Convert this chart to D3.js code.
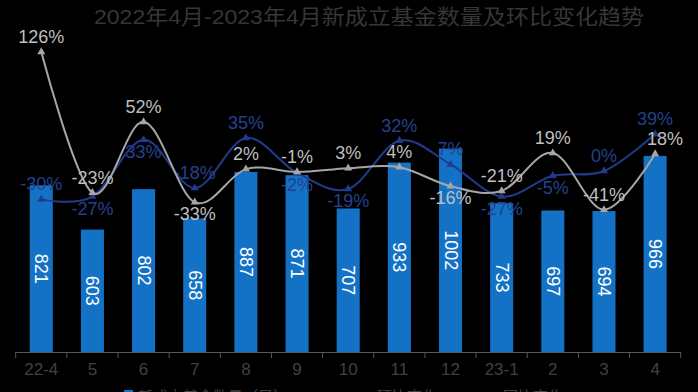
<!DOCTYPE html>
<html><head><meta charset="utf-8">
<script src="https://cdn.jsdelivr.net/npm/d3@7"></script>
<style>html,body{margin:0;padding:0;background:#000;}svg{display:block;}</style>
</head><body>
<svg id="c" width="698" height="392"></svg>
<script>
const categories = ["22-4","5","6","7","8","9","10","11","12","23-1","2","3","4"];
const fundCounts = [821,603,802,658,887,871,707,933,1002,733,697,694,966];
const momChange = [-30,-27,33,-18,35,-2,-19,32,7,-27,-5,0,39];   // 环比变化 %
const yoyChange = [126,-23,52,-33,2,-1,3,4,-16,-21,19,-41,18];   // 同比变化 %
const momLabelSide = ["up","down","down","up","up","down","down","up","up","down","down","up","up"];
const yoyLabelSide = ["up","up","up","down","up","up","up","up","down","up","up","up","up"];
const title = "2022年4月-2023年4月新成立基金数量及环比变化趋势";
const legendNames = ["新成立基金数量（只）","环比变化","同比变化"];

const svg = d3.select("#c");
const W = 698, H = 392;
svg.append("rect").attr("width",W).attr("height",H).attr("fill","#000");

const font = "'Liberation Sans', Arial, 'Noto Sans CJK SC', sans-serif";
const barColor = "#1372c6", momColor = "#213b8c", yoyColor = "#a6a6a6";

const x = d3.scaleBand().domain(categories).range([15.7, 680.7]).paddingInner(0.55).paddingOuter(0.275);
const y = d3.scaleLinear().domain([0,1200]).range([352, 108.4]);
const y2 = d3.scaleLinear().domain([-100,150]).range([265.6, 29.1]);
const cx = c => x(c) + x.bandwidth()/2;

// title
svg.append("text").attr("x",369).attr("y",24).attr("text-anchor","middle")
  .attr("textLength",550).attr("lengthAdjust","spacingAndGlyphs")
  .attr("font-family",font).attr("font-size",21).attr("fill","#363636").text(title);

// bars
svg.append("g").selectAll("rect").data(fundCounts).join("rect")
  .attr("x",(d,i)=>x(categories[i])).attr("width",x.bandwidth())
  .attr("y",d=>y(d)).attr("height",d=>y(0)-y(d)).attr("fill",barColor);

// bar labels (rotated)
svg.append("g").selectAll("text").data(fundCounts).join("text")
  .attr("transform",(d,i)=>`translate(${cx(categories[i])},${(y(d)+y(0))/2}) rotate(90)`)
  .attr("text-anchor","middle").attr("dominant-baseline","central")
  .attr("font-family",font).attr("font-size",18).attr("fill","#fff").text(d=>d);

// x axis
const xAxis = d3.axisBottom(x).tickSize(0).tickPadding(8);
const gx = svg.append("g").attr("transform","translate(0,352)").call(xAxis);
gx.select(".domain").attr("stroke","#595959").attr("stroke-width",1).attr("d","M15.7,0.5H680.7");
gx.selectAll("text").attr("font-family",font).attr("font-size",17).attr("fill","#404040").attr("dy","0.9em");
const bounds = categories.map(c=>x(c)-x.step()*x.paddingInner()/2).concat([680.7]);
bounds[0] = 15.7;
gx.selectAll(".bt").data(bounds).join("line").attr("class","bt")
  .attr("x1",d=>d).attr("x2",d=>d).attr("y1",0).attr("y2",6).attr("stroke","#595959");

// lines
function drawLine(vals, color, sides, labelColor, lastDx) {
  const line = d3.line().x((d,i)=>cx(categories[i])).y(d=>y2(d)).curve(d3.curveCatmullRom.alpha(0));
  svg.append("path").datum(vals).attr("d",line).attr("fill","none").attr("stroke",color).attr("stroke-width",2);
  svg.append("g").selectAll("path").data(vals).join("path")
    .attr("transform",(d,i)=>`translate(${cx(categories[i])},${y2(d)})`)
    .attr("d",d3.symbol().type(d3.symbolTriangle).size(28)).attr("fill",color);
  svg.append("g").selectAll("text").data(vals).join("text")
    .attr("x",(d,i)=>cx(categories[i]) + (i===vals.length-1 ? lastDx : 0))
    .attr("y",(d,i)=> sides[i]==="up" ? y2(d)-9 : y2(d)+18)
    .attr("text-anchor","middle").attr("font-family",font).attr("font-size",18)
    .attr("fill",labelColor).text(d=>d+"%");
}
drawLine(momChange, momColor, momLabelSide, "#24408f", 0);
drawLine(yoyChange, yoyColor, yoyLabelSide, "#bfbfbf", 10);

// legend (cut off at bottom as in the reference)
const lg = svg.append("g").attr("font-family",font).attr("font-size",15).attr("fill","#404040");
lg.append("rect").attr("x",124).attr("y",390).attr("width",9).attr("height",9).attr("fill",barColor);
lg.append("text").attr("x",138).attr("y",402).text(legendNames[0]);
lg.append("line").attr("x1",335).attr("x2",370).attr("y1",395).attr("y2",395).attr("stroke",momColor).attr("stroke-width",2);
lg.append("text").attr("x",377).attr("y",402).text(legendNames[1]);
lg.append("line").attr("x1",462).attr("x2",497).attr("y1",395).attr("y2",395).attr("stroke",yoyColor).attr("stroke-width",2);
lg.append("text").attr("x",503).attr("y",402).text(legendNames[2]);
</script>
</body></html>
